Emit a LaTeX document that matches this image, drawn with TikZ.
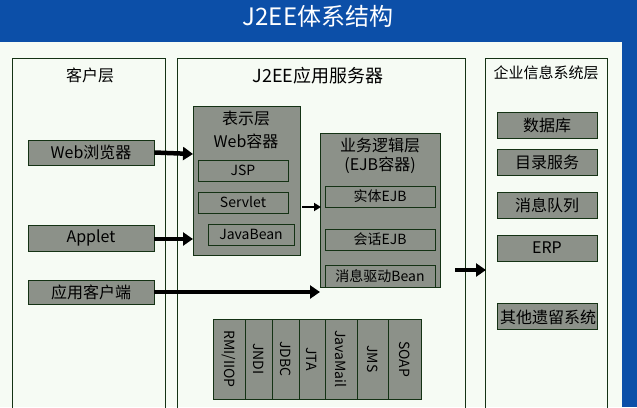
\documentclass[tikz,border=0pt]{standalone}
\usepackage{fontspec}
\setmainfont{Noto Sans CJK SC}
\usetikzlibrary{arrows.meta}
\definecolor{gbox}{HTML}{8C9189}
\definecolor{gline}{HTML}{143214}
\definecolor{bgw}{HTML}{F6FBF4}
\definecolor{blu}{HTML}{0C4FA8}
\begin{document}
\begin{tikzpicture}[x=1pt,y=-1pt,
  panel/.style={draw=gline,line width=0.8pt},
  gb/.style={draw=gline,fill=gbox,line width=0.8pt},
  lbl/.style={font=\fontsize{16}{17}\selectfont,text=black,inner sep=0},
  sl/.style={font=\fontsize{14}{15}\selectfont,text=black,inner sep=0},
  arr/.style={-{Triangle[length=10pt,width=13pt]},line width=4.5pt}]
\useasboundingbox (0,0) rectangle (637,407);
\fill[blu] (0,0) rectangle (637,407);
\fill[bgw] (0,42) rectangle (622,407);
\node[text=white,font=\fontsize{24}{26}\selectfont] (title) at (318,16) {J2EE体系结构};
\draw[panel] (12,58) rectangle (165,410);
\draw[panel] (177,58) rectangle (465,410);
\draw[panel] (485,58) rectangle (607,410);
\node[lbl] (t1) at (90,75) {客户层};
\node[font=\fontsize{18}{19}\selectfont,inner sep=0] (t2) at (318,76) {J2EE应用服务器};
\node[font=\fontsize{15}{16}\selectfont,inner sep=0] (t3) at (546,73) {企业信息系统层};
% presentation
\draw[gb] (193,106) rectangle (300,255);
\node[lbl] at (246,118) {表示层};
\node[lbl] at (246,141) {Web容器};
\draw[gb] (198,160) rectangle (288,181); \node[sl] (jsp) at (243,170.5) {JSP};
\draw[gb] (198,192) rectangle (288,213); \node[sl] (srv) at (243,202.5) {Servlet};
\draw[gb] (208,224) rectangle (294,245); \node[sl] (jb) at (251,234.5) {JavaBean};
\coordinate (presR) at (302,207);
% business
\draw[gb] (320,133) rectangle (440,287);
\node[lbl] at (380,145) {业务逻辑层};
\node[lbl] at (380,165) {(EJB容器)};
\draw[gb] (325,186) rectangle (435,207); \node[sl] (ee) at (380,196.5) {实体EJB};
\draw[gb] (325,229) rectangle (435,250); \node[sl] (se) at (380,239.5) {会话EJB};
\draw[gb] (325,265) rectangle (435,287); \node[sl] (mb) at (380,276) {消息驱动Bean};
\coordinate (busL) at (321,207);
% clients
\node[gb,minimum width=126pt,minimum height=25pt,lbl] (web) at (91,152.5) {Web浏览器};
\node[gb,minimum width=126pt,minimum height=26pt,lbl] (app) at (91,238) {Applet};
\node[gb,minimum width=126pt,minimum height=24pt,lbl] (cli) at (91,292) {应用客户端};
\coordinate (pw) at (193,154);
\coordinate (pa) at (193,239);
\coordinate (pm) at (320,292);
\draw[arr] (web.east) -- (pw);
\draw[arr] (app.east) ++(0,1) -- (pa);
\draw[arr] (cli.east) -- (pm);
\draw[-{Triangle[length=7pt,width=8pt]},line width=2.5pt] (presR) -- (busL);
\coordinate (sr) at (455,270); \coordinate (el) at (486,270);
\draw[arr] (sr) -- (el);
% EIS
\foreach \n/\y/\t in {db/125/数据库,dir/162.5/目录服务,mq/205/消息队列,erp/248/ERP}
  \node[gb,minimum width=100pt,minimum height=26pt,lbl] (\n) at (547,\y) {\t};
\draw[gb] (497,303) rectangle (597,329);
\node[lbl] (leg) at (548,317) {其他遗留系统};
% services
\foreach \a/\b/\t in {213/245/{RMI/IIOP},245/272/JNDI,272/299/JDBC,299/325/JTA,325/357/JavaMail,357/388/JMS,388/421/SOAP}{
  \draw[gb] (\a,319) rectangle (\b,399);
  \node[sl,rotate=-90] at ({(\a+\b)/2},359) {\t};
}
\end{tikzpicture}
\end{document}
